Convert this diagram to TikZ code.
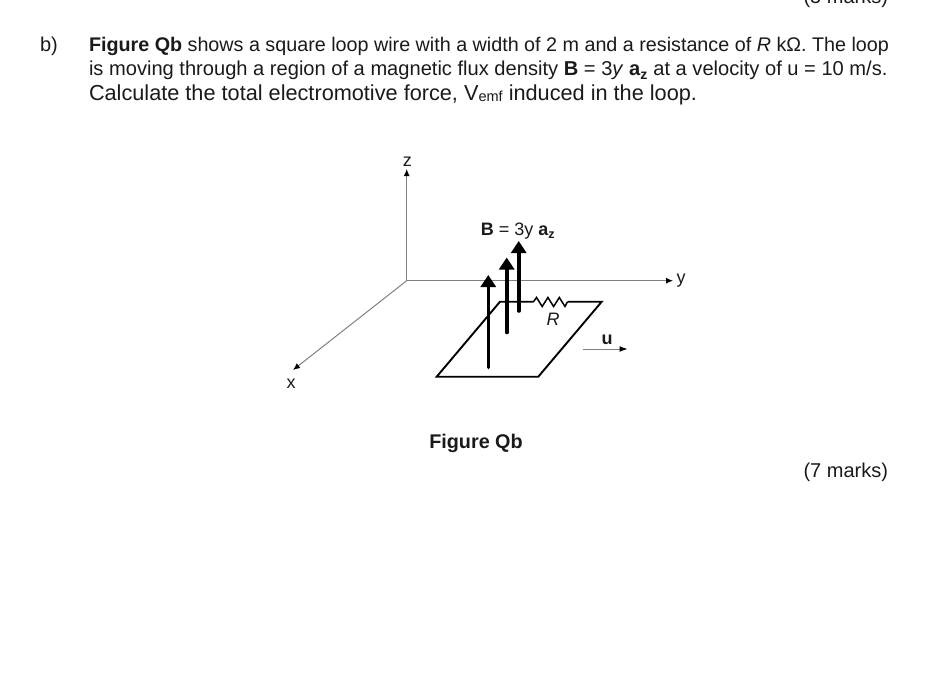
\documentclass[tikz,border=0pt]{standalone}
\usepackage{fontspec}
\setmainfont{Liberation Sans}
\usetikzlibrary{arrows.meta}
\definecolor{ink}{HTML}{1A1A1A}
\definecolor{axis}{HTML}{808080}
\newcommand{\lowtext}[1]{{\fontsize{14.5}{16}\selectfont\raisebox{-1pt}{#1}}}
\tikzset{
  body/.style={inner sep=0pt,outer sep=0pt,anchor=base west,text=ink,font=\fontsize{20}{24}\selectfont},
  bodyr/.style={body,anchor=base east},
  small/.style={inner sep=0pt,text=ink,font=\fontsize{18}{20}\selectfont},
  axisline/.style={draw=axis,line width=1pt,-{Latex[length=7pt,width=6pt,color=black]}},
  wire/.style={draw=black,line width=1.9pt,line join=miter},
  field/.style={draw=black,line width=3.6pt,line cap=round,-{Triangle[length=12pt,width=15pt]}},
  move/.style={draw=axis,line width=1pt,-{Latex[length=8pt,width=6pt,color=black]}}
}
\begin{document}
\begin{tikzpicture}[x=1pt,y=-1pt]
\useasboundingbox (0,0) rectangle (937,682);
\clip (0,0) rectangle (937,682);
\node[bodyr] (marks5) at (888,4) {(5 marks)};
\node[body] (part) at (40,51.7) {b)};
\node[body,font=\fontsize{19.73}{24}\selectfont] (l1) at (89,51.7) {\textbf{Figure Qb} shows a square loop wire with a width of 2 m and a resistance of \textit{R} kΩ. The loop};
\node[body,font=\fontsize{20.1}{24}\selectfont] (l2) at (89,76) {is moving through a region of a magnetic flux density \textbf{B} = 3\textit{y} \textbf{a\textsubscript{z}} at a velocity of u = 10 m/s.};
\node[body,font=\fontsize{21.7}{24}\selectfont] (l3) at (89,101) {Calculate the total electromotive force, V\lowtext{emf} induced in the loop.};
% axes
\coordinate (o) at (406.7,280.7);
\coordinate (ztip) at (406.7,169);
\coordinate (ytip) at (673,280.7);
\coordinate (xtip) at (293,370);
\draw[axisline] (o) -- (ztip);
\draw[axisline] (o) -- (ytip);
\draw[axisline] (o) -- (xtip);
\node[small] (zl) at (407.3,162) {z};
\node[small] (yl) at (681,281) {y};
\node[small] (xl) at (291,384) {x};
% loop
\coordinate (a) at (500,301.7);
\coordinate (b) at (436.7,376.7);
\coordinate (c) at (538.3,376.7);
\coordinate (d) at (601.7,301.7);
\coordinate (r1) at (533.5,301.7);
\coordinate (r2) at (567.5,301.7);
\draw[wire] (r1) -- (a) -- (b) -- (c) -- (d) -- (r2);
\draw[draw=black,line width=1.5pt,line join=miter] (r1) -- ++(3,-4.2) -- ++(5.7,9) -- ++(5.7,-9) -- ++(5.7,9) -- ++(5.7,-9) -- ++(5.7,9) -- (r2);
\node[small,font=\fontsize{18}{20}\selectfont\itshape] (R) at (553,319) {R};
% field arrows
\coordinate (f1a) at (488.3,367.5);
\coordinate (f1b) at (488.3,275);
\coordinate (f2a) at (506.7,332.5);
\coordinate (f2b) at (506.7,257.5);
\coordinate (f3a) at (518.7,311);
\coordinate (f3b) at (518.7,241);
\draw[field] (f1a) -- (f1b);
\draw[field] (f2a) -- (f2b);
\draw[field] (f3a) -- (f3b);
\node[small] (B) at (518,231) {\textbf{B} = 3y \textbf{a\textsubscript{z}}};
% velocity
\coordinate (u1) at (582.7,349);
\coordinate (u2) at (627.5,349);
\draw[move] (u1) -- (u2);
\node[small] (ul) at (607,340) {\textbf{u}};
% caption
\node[inner sep=0pt,text=ink,font=\fontsize{19.8}{22}\selectfont\bfseries] (cap) at (476,443) {Figure Qb};
\node[bodyr] (marks7) at (888,477.5) {(7 marks)};
\end{tikzpicture}
\end{document}
